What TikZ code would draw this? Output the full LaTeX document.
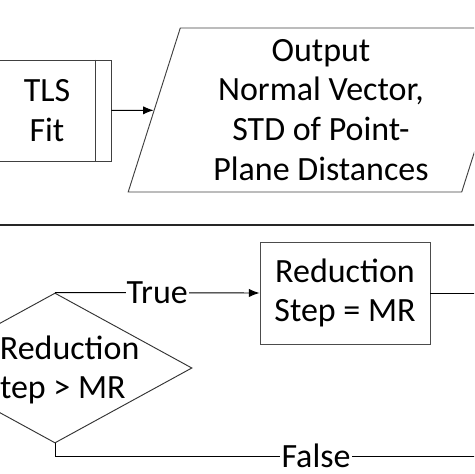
\documentclass[tikz,border=0pt]{standalone}
\usepackage{fontspec}
\setmainfont{Carlito}
\usepackage{tikz}
\usetikzlibrary{positioning,calc,shapes.geometric,arrows.meta}

\begin{document}
\begin{tikzpicture}[
  x=0.03cm, y=-0.03cm,
  >={Latex[length=9pt,width=7pt]},
  line width=0.8pt,
  every node/.style={align=center, font=\fontsize{29}{34}\selectfont},
  proc/.style={draw=black!75, minimum width=128*0.03cm, minimum height=101*0.03cm, inner sep=0pt},
  io/.style={draw=black!75, trapezium, trapezium left angle=74.3, trapezium right angle=105.7,
    trapezium stretches=true, minimum width=386*0.03cm, minimum height=164*0.03cm, inner sep=0pt},
  box/.style={draw=black!70, minimum width=170*0.03cm, minimum height=102*0.03cm, inner sep=0pt},
  decision/.style={draw=black!80, diamond, minimum width=274*0.03cm, minimum height=150*0.03cm, inner sep=0pt},
  lbl/.style={fill=white, inner sep=1pt}
]
\useasboundingbox (0,0) rectangle (474,474);
\clip (0,0) rectangle (474,474);

% --- Upper part: fit and output ---
\node[proc] (tls) at (47, 110.5) {TLS\\Fit};
\draw[black!75] ($(tls.north east)+(-16,0)$) -- ($(tls.south east)+(-16,0)$);
\draw[black!75] ($(tls.north west)+(16,0)$) -- ($(tls.south west)+(16,0)$);
\node[io] (out) at (321, 110) {Output\\Normal Vector,\\STD of Point-\\Plane Distances};

\draw[->] (tls) -- (out);

% --- Separator ---
\coordinate (sepL) at (-10, 225);
\coordinate (sepR) at (490, 225);
\draw[line width=1.4pt, black!85] (sepL) -- (sepR);

% --- Lower part: decision and reduction step ---
\node[decision] (dec) at (55, 368) {};
\node (dectxt) at ($(dec.center)+(0,2)$) {\hspace*{25pt}Reduction\\Step > MR};
\node[box] (red) at (345, 293) {Reduction\\Step = MR};

\coordinate (redout) at (490, 293);
\coordinate (fbend) at (55, 456);
\coordinate (fout) at (490, 456);

\draw[->] (dec.north) -- node[lbl, pos=0.5] {True} (red.west);
\draw (red.east) -- (redout);
\draw (dec.south) -- (fbend) -- node[lbl, pos=0.6] {False} (fout);

\end{tikzpicture}
\end{document}
